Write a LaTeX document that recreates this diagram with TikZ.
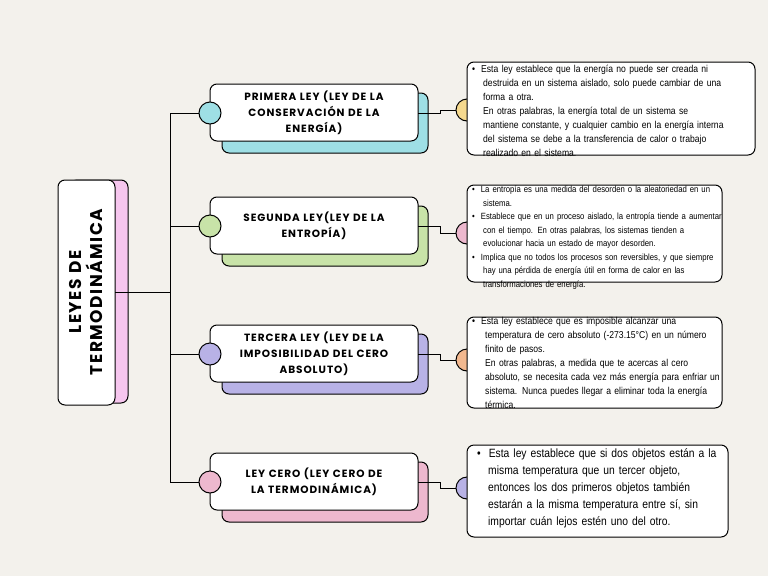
\documentclass[tikz,border=0pt]{standalone}
\usepackage{fontspec}
\setmainfont{Liberation Sans}
\newfontfamily\body[FakeStretch=0.86]{Liberation Sans}
\newfontfamily\hand[LetterSpace=9]{Poppins}
\begin{document}
\begin{tikzpicture}[x=1pt,y=-1pt,
  bx/.style={draw=black,line width=1pt,rounded corners=7pt},
  dot/.style={circle,draw=black,line width=1pt,minimum size=22pt,inner sep=0pt},
  ln/.style={draw=black,line width=1pt},
  ttl/.style={font=\hand\bfseries\fontsize{10.5}{16}\selectfont,align=center,text width=200pt},
  txt/.style={font=\body\fontsize{10}{14}\selectfont,anchor=north west,text width=260pt,align=left,inner sep=0pt}]
\definecolor{bg}{HTML}{F3F1EC}
\definecolor{cteal}{HTML}{9EDFE5}
\definecolor{cyel}{HTML}{F5D98E}
\definecolor{cgreen}{HTML}{C8E3A8}
\definecolor{cpink}{HTML}{EDB8CE}
\definecolor{cpur}{HTML}{B8B2E6}
\definecolor{corg}{HTML}{F2B88F}
\definecolor{cmag}{HTML}{F6C6EE}
\useasboundingbox (0,0) rectangle (768,576);
\fill[bg] (0,0) rectangle (768,576);
% title
\draw[bx,fill=cmag] (70,180) rectangle (128,403);
\draw[bx,fill=white] (58,180) rectangle (115,405);
\node[rotate=90,font=\hand\bfseries\fontsize{17}{21}\selectfont,align=center] (t) at (86.5,292) {LEYES DE\\TERMODINÁMICA};
\coordinate (tr) at (115,292);
\coordinate (j) at (170,292);
\draw[ln] (tr) -- (j);
\draw[ln] (170,113) -- (170,483);
% laws
\foreach \n/\y/\sc/\lc/\rc/\ry/\t in {
 a/84/cteal/cteal/cyel/110/{PRIMERA LEY (LEY DE LA\\CONSERVACIÓN DE LA\\ENERGÍA)},
 b/197/cgreen/cgreen/cpink/233/{SEGUNDA LEY(LEY DE LA\\ENTROPÍA)},
 c/325/cpur/cpur/corg/360/{TERCERA LEY (LEY DE LA\\IMPOSIBILIDAD DEL CERO\\ABSOLUTO)},
 d/453/cpink/cpink/cpur/488/{LEY CERO (LEY CERO DE\\LA TERMODINÁMICA)}}{
  \draw[bx,fill=\sc] (222,\y+9) rectangle (428,\y+69);
  \draw[bx,fill=white] (210,\y) rectangle (418,\y+57);
  \node[ttl] (\n) at (314,\y+28.5) {\t};
  \draw[ln] (170,\y+29) -- (199,\y+29);
  \node[dot,fill=\lc] (\n l) at (210,\y+29) {};
  \draw[ln] (418,\y+29) -- (440,\y+29) -- (440,\ry) -- (456,\ry);
  \node[dot,fill=\rc] (\n r) at (467,\ry) {};
}
% text boxes
\draw[bx,fill=white] (467,62) rectangle (755,155);
\node[txt] (ta) at (472,65) {\textbullet\hspace{6pt}Esta ley establece que la energía no puede ser creada ni\\\hspace*{11pt}destruida en un sistema aislado, solo puede cambiar de una\\\hspace*{11pt}forma a otra.\\\hspace*{11pt}En otras palabras, la energía total de un sistema se\\\hspace*{11pt}mantiene constante, y cualquier cambio en la energía interna\\\hspace*{11pt}del sistema se debe a la transferencia de calor o trabajo\\\hspace*{11pt}realizado en el sistema.};
\draw[bx,fill=white] (467,185) rectangle (722,282);
\node[txt,font=\body\fontsize{9}{13.5}\selectfont] (tb) at (472,186) {\textbullet\hspace{6pt}La entropía es una medida del desorden o la aleatoriedad en un\\\hspace*{11pt}sistema.\\\textbullet\hspace{6pt}Establece que en un proceso aislado, la entropía tiende a aumentar\\\hspace*{11pt}con el tiempo. En otras palabras, los sistemas tienden a\\\hspace*{11pt}evolucionar hacia un estado de mayor desorden.\\\textbullet\hspace{6pt}Implica que no todos los procesos son reversibles, y que siempre\\\hspace*{11pt}hay una pérdida de energía útil en forma de calor en las\\\hspace*{11pt}transformaciones de energía.};
\draw[bx,fill=white] (467,317) rectangle (722,408);
\node[txt] (tc) at (472,317) {\textbullet\hspace{6pt}Esta ley establece que es imposible alcanzar una\\\hspace*{13pt}temperatura de cero absoluto (-273.15°C) en un número\\\hspace*{13pt}finito de pasos.\\\hspace*{13pt}En otras palabras, a medida que te acercas al cero\\\hspace*{13pt}absoluto, se necesita cada vez más energía para enfriar un\\\hspace*{13pt}sistema. Nunca puedes llegar a eliminar toda la energía\\\hspace*{13pt}térmica.};
\draw[bx,fill=white] (467,445) rectangle (728,537);
\node[txt,font=\body\fontsize{12}{17}\selectfont] (td) at (477,448) {\textbullet\hspace{8pt}Esta ley establece que si dos objetos están a la\\\hspace*{11pt}misma temperatura que un tercer objeto,\\\hspace*{11pt}entonces los dos primeros objetos también\\\hspace*{11pt}estarán a la misma temperatura entre sí, sin\\\hspace*{11pt}importar cuán lejos estén uno del otro.};
\end{tikzpicture}
\end{document}
